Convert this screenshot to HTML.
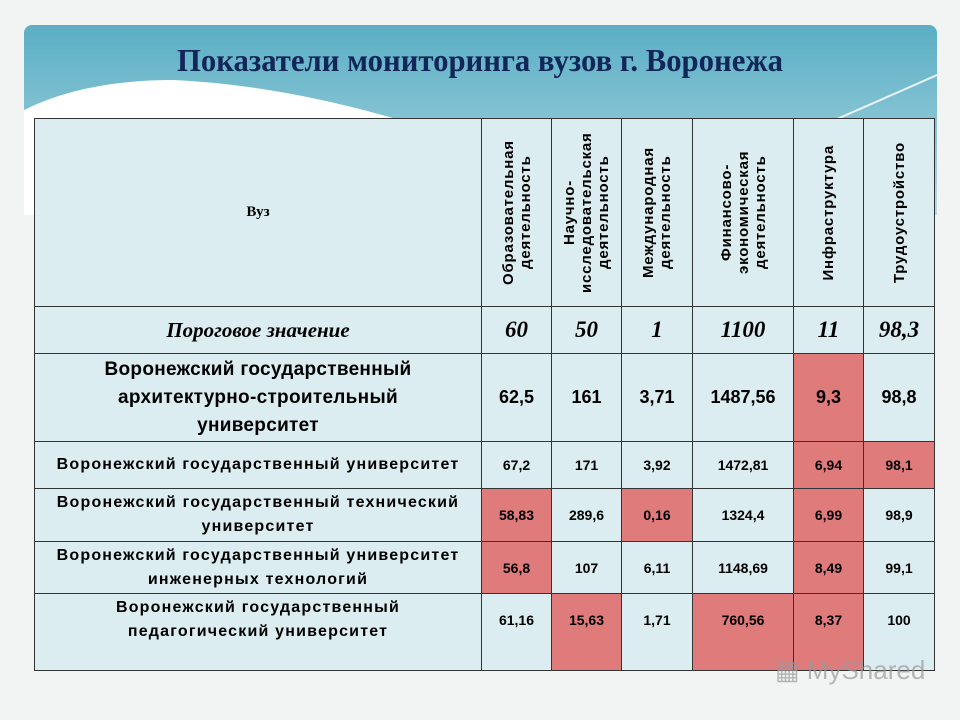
<!DOCTYPE html>
<html><head><meta charset="utf-8"><style>
body{margin:0;width:960px;height:720px;overflow:hidden;background:#f2f3f3;font-family:"Liberation Serif",serif;position:relative}
.band{position:absolute;left:24px;top:25px;width:913px;height:190px;border-radius:8px 8px 0 0;background:linear-gradient(180deg,#5aaec4 0%,#8cc7d6 60%,#b8dde6 100%);overflow:hidden}
.title{position:absolute;left:0;width:960px;top:42px;text-align:center;font-size:32px;font-weight:bold;color:#13265a;transform:scaleX(0.96)}
.c{position:absolute;box-sizing:border-box;border:1px solid #333;display:flex;align-items:center;justify-content:center;text-align:center;color:#000;font-weight:bold;background:#dcedf2}
.r{background:#e07b7b}
.v{writing-mode:vertical-rl;transform:rotate(180deg);font-family:"Liberation Sans",sans-serif;font-size:15px;line-height:17px;letter-spacing:0.8px}
</style></head><body>
<div class="band">
<svg width="913" height="190" style="position:absolute;left:0;top:0"><path d="M0 85 Q60 55 150 55 Q300 62 480 130 L480 190 L0 190Z" fill="#ffffff"/><path d="M913 50 Q800 100 730 130" stroke="#e8f4f7" fill="none" stroke-width="2"/></svg>
</div>
<div class="title">Показатели мониторинга вузов г. Воронежа</div>
<div id="t"></div>
<div style="position:absolute;left:775px;top:655px;font-family:'Liberation Sans',sans-serif;font-size:26px;color:#9a9a9a;opacity:.7">▦ MyShared</div>
<script>
const xs=[34,481,551,621,692,793,863,934];
const ys=[118,306,353,441,488,541,593,670];
const heads=["Образовательная деятельность","Научно-исследовательская деятельность","Международная деятельность","Финансово-экономическая деятельность","Инфраструктура","Трудоустройство"];
const names=["Пороговое значение","Воронежский государственный<br>архитектурно-строительный<br>университет","Воронежский государственный университет","Воронежский государственный технический<br>университет","Воронежский государственный университет<br>инженерных технологий","Воронежский государственный<br>педагогический университет"];
const vals=[["60","50","1","1100","11","98,3"],["62,5","161","3,71","1487,56","9,3","98,8"],["67,2","171","3,92","1472,81","6,94","98,1"],["58,83","289,6","0,16","1324,4","6,99","98,9"],["56,8","107","6,11","1148,69","8,49","99,1"],["61,16","15,63","1,71","760,56","8,37","100"]];
const reds=[[],[4],[4,5],[0,2,4],[0,4],[1,3,4]];
const t=document.getElementById('t');
function cell(x0,x1,y0,y1,html,cls,style){const d=document.createElement('div');d.className='c '+(cls||'');d.style.cssText=`left:${x0}px;top:${y0}px;width:${x1-x0+1}px;height:${y1-y0+1}px;`+(style||'');d.innerHTML=html;t.appendChild(d);return d;}
let h=cell(xs[0],xs[1],ys[0],ys[1],'Вуз','','font-size:15px;');


heads.forEach((s,i)=>{const d=cell(xs[i+1],xs[i+2],ys[0],ys[1],'<span class="v">'+s.replace('-','-<br>')+'</span>');

});
names.forEach((n,r)=>{
const fs=r==0?'font-style:italic;font-size:21px;':(r==1?'font-size:19px;letter-spacing:0.3px;font-family:"Liberation Sans",sans-serif;line-height:28px;':'font-size:16px;letter-spacing:1.2px;font-family:"Liberation Sans",sans-serif;line-height:24px;white-space:nowrap;');
const d=cell(xs[0],xs[1],ys[r+1],ys[r+2],n,'',fs+(r==5?'align-items:flex-start;padding-top:2px;':''));


vals[r].forEach((v,c)=>{const vs=r==0?'font-style:italic;font-size:23px;':(r==1?'font-size:18px;font-family:"Liberation Sans",sans-serif;':'font-size:14px;font-family:"Liberation Sans",sans-serif;');
const e=cell(xs[c+1],xs[c+2],ys[r+1],ys[r+2],v,reds[r].includes(c)?'r':'',vs+(r==5?'align-items:flex-start;padding-top:18px;':''));

});
});
</script>
</body></html>
